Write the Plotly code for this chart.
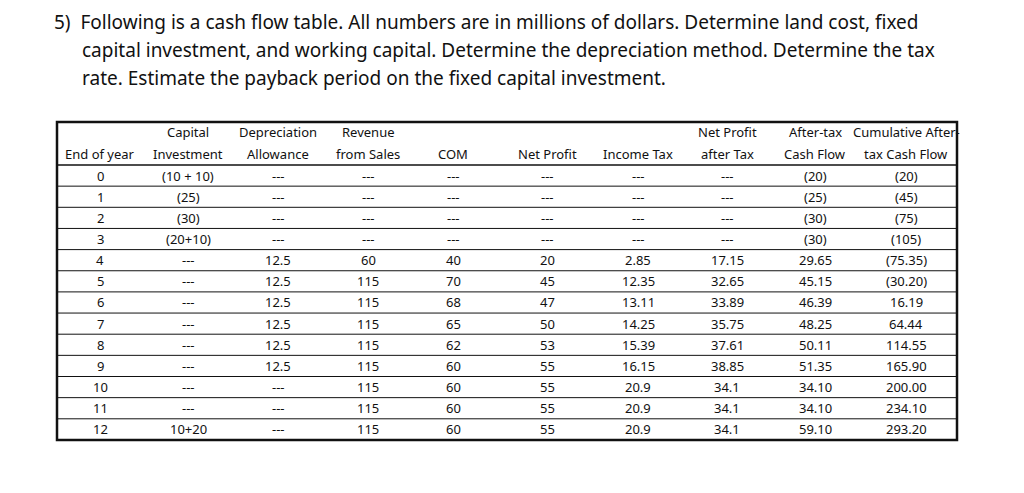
import plotly.graph_objects as go

question = ["5)  Following is a cash flow table. All numbers are in millions of dollars. Determine land cost, fixed",
            "capital investment, and working capital. Determine the depreciation method. Determine the tax",
            "rate. Estimate the payback period on the fixed capital investment."]

head_top = ["", "Capital", "Depreciation", "Revenue", "", "", "", "Net Profit", "After-tax", "Cumulative After-"]
head_bot = ["End of year", "Investment", "Allowance", "from Sales", "COM", "Net Profit", "Income Tax",
            "after Tax", "Cash Flow", "tax Cash Flow"]

years = [str(i) for i in range(13)]
capital = ["(10 + 10)", "(25)", "(30)", "(20+10)"] + ["---"] * 8 + ["10+20"]
depreciation = ["---"] * 4 + ["12.5"] * 6 + ["---"] * 3
revenue = ["---"] * 4 + ["60"] + ["115"] * 8
com = ["---"] * 4 + ["40", "70", "68", "65", "62", "60", "60", "60", "60"]
net_profit = ["---"] * 4 + ["20", "45", "47", "50", "53", "55", "55", "55", "55"]
income_tax = ["---"] * 4 + ["2.85", "12.35", "13.11", "14.25", "15.39", "16.15", "20.9", "20.9", "20.9"]
npat = ["---"] * 4 + ["17.15", "32.65", "33.89", "35.75", "37.61", "38.85", "34.1", "34.1", "34.1"]
after_tax_cf = ["(20)", "(25)", "(30)", "(30)", "29.65", "45.15", "46.39", "48.25", "50.11", "51.35",
                "34.10", "34.10", "59.10"]
cumulative = ["(20)", "(45)", "(75)", "(105)", "(75.35)", "(30.20)", "16.19", "64.44", "114.55",
              "165.90", "200.00", "234.10", "293.20"]

columns = [years, capital, depreciation, revenue, com, net_profit, income_tax, npat, after_tax_cf, cumulative]
col_x = [100, 188, 278, 368, 453, 547, 638, 727, 815, 906]

fig = go.Figure()
fig.add_trace(go.Scatter(x=[8, 1032], y=[8, 501], mode="markers", marker=dict(opacity=0),
                         hoverinfo="skip", showlegend=False))

fnt = dict(family="Noto Sans", size=13, color="#111")
left, right, top, hb, row_h = 57, 957, 122, 165, 21.15

for i, line in enumerate(question):
    fig.add_annotation(x=52 if i == 0 else 80, y=22 + 28 * i, text=line, showarrow=False,
                       xanchor="left", yanchor="middle", font=dict(family="Noto Sans", size=19, color="#111"))

for x, t, b in zip(col_x, head_top, head_bot):
    fig.add_annotation(x=x, y=132, text=t, showarrow=False, font=fnt)
    fig.add_annotation(x=x, y=154, text=b, showarrow=False, font=fnt)

for x, col in zip(col_x, columns):
    for r, v in enumerate(col):
        fig.add_annotation(x=x, y=hb + row_h * (r + 0.5), text=v, showarrow=False, font=fnt)

bottom = hb + row_h * len(years)
fig.add_shape(type="rect", x0=left, x1=right, y0=top, y1=bottom, line=dict(color="#111", width=2.5))
for r in range(len(years)):
    fig.add_shape(type="line", x0=left, x1=right, y0=hb + row_h * r, y1=hb + row_h * r,
                  line=dict(color="#111", width=1.5 if r == 0 else 1))

# page body has an 8px margin, so the axes are shifted to line up with the window
fig.update_xaxes(range=[8, 1032], visible=False)
fig.update_yaxes(range=[501, 8], visible=False)
fig.update_layout(width=1024, height=493, margin=dict(l=0, r=0, t=0, b=0),
                  plot_bgcolor="white", paper_bgcolor="white")
fig.write_html("out.html")
